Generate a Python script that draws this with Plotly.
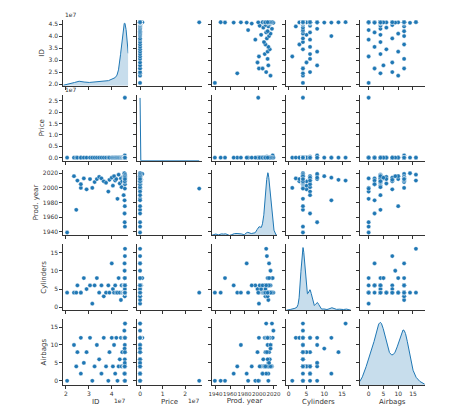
import numpy as np
import plotly.graph_objects as go

ID = [20500000,23500000,24500000,25000000,26500000,26500000,27800000,29000000,30500000,31500000,
      32500000,33500000,34500000,35500000,36500000,37500000,38500000,39000000,40000000,40500000,
      41000000,41500000,42000000,42500000,43000000,43500000,44000000,44300000,44600000,45000000,
      45200000,45400000,45500000,45550000,45600000,45620000,45650000,45670000,45690000,45700000,
      45710000,45720000,45730000,45740000,45750000,45760000,45770000,45780000,45790000,45800000,
      45810000,45650000,45600000,45700000,45750000,45500000,45680000,45720000,45760000,45780000,
      45700000,45740000,45620000,45660000,45800000,45690000,45770000,45710000,45730000,45790000,
      45600000,45660000,45740000,45680000,45760000,45720000,45780000,45700000,45650000,45750000]
Price = [3000,5000,8000,9000,7000,6000,11000,4000,12000,15000,9000,14000,10000,20000,13000,17000,8000,22000,16000,10000,
         30000,12000,18000,9000,25000,14000,20000,11000,15000,19000,7000,26000,13000,30000,500000,12000,17000,9000,22000,14000,
         1000000,11000,26300000,16000,19000,8000,21000,13000,15000,18000,10000,12000,9000,14000,16000,11000,20000,13000,15000,17000,
         12000,19000,8000,14000,21000,10000,16000,18000,12000,15000,9000,13000,17000,11000,14000,20000,16000,12000,15000,18000]
Prod_year = [1939,2016,1970,2010,2000,2005,2013,1998,2012,2000,2008,2012,2015,2013,2009,2007,1995,2011,2014,2003,
             2016,2010,2012,1985,2018,2006,2013,2001,2009,2015,1990,2017,2012,2014,2011,2010,2013,2008,2016,2012,
             2019,2007,1999,2015,2014,2005,2012,2011,2010,2017,2013,1953,1965,1975,1947,2020,2012,2009,2014,2013,
             2011,2012,2016,2010,2015,2012,2014,2013,2008,2018,1983,2012,2011,2013,2010,2016,2012,2014,2009,2012]
Cylinders = [4,4,4,6,4,4,8,5,6,1,6,8,4,6,3,4,6,4,12,5,4,6,4,4,8,4,2,6,4,4,6,4,4,4,6,4,4,4,6,4,
             8,4,4,4,4,6,4,4,16,4,4,8,6,4,4,4,3,5,4,6,4,4,10,4,4,4,6,4,4,4,12,4,14,4,6,4,4,8,4,4]
Airbags = [0,10,4,8,12,2,5,8,12,0,4,10,6,2,12,4,0,8,12,4,10,2,12,0,4,6,12,4,8,12,4,4,12,4,12,4,0,12,4,8,
           12,4,0,12,4,2,12,4,16,4,12,0,2,10,0,14,12,4,8,12,4,12,9,4,12,6,4,12,4,16,2,12,8,4,12,4,12,5,4,12]

names = ["ID", "Price", "Prod. year", "Cylinders", "Airbags"]
cols = [ID, Price, Prod_year, Cylinders, Airbags]
ranges = [[1.88e7, 4.72e7], [-0.13e7, 2.76e7], [1935, 2025], [-0.8, 17.5], [-3, 19]]
yranges = [[1.93e7, 4.67e7], [-0.13e7, 2.76e7], [1935, 2025], [-0.8, 17.2], [-1.2, 17.2]]
ticks = [([2e7, 3e7, 4e7], ["2", "3", "4"], [2e7, 2.5e7, 3e7, 3.5e7, 4e7, 4.5e7], ["2.0", "2.5", "3.0", "3.5", "4.0", "4.5"]),
         ([0, 1e7, 2e7], ["0", "1", "2"], [0, 0.5e7, 1e7, 1.5e7, 2e7, 2.5e7], ["0.0", "0.5", "1.0", "1.5", "2.0", "2.5"]),
         ([1940, 1960, 1980, 2000, 2020], None, [1940, 1960, 1980, 2000, 2020], None),
         ([0, 5, 10, 15], None, [0, 5, 10, 15], None),
         ([0, 5, 10, 15], None, [0, 5, 10, 15], None)]

W, H = 474, 410
lefts = [53, 128, 204, 279, 354]
tops = [12, 87, 162, 237, 312]
cw, ch = 66, 66
blue = "#1f77b4"
font = dict(family="DejaVu Sans", size=7, color="#333")
tfont = dict(family="DejaVu Sans", size=6, color="#333")
sfont = dict(family="DejaVu Sans", size=5.5, color="#333")

def kde(v, grid):
    v = np.asarray(v, float)
    iqr = np.subtract(*np.percentile(v, [75, 25]))
    bw = 0.9 * min(v.std(ddof=1), iqr / 1.34) * len(v) ** (-1 / 5)
    d = np.exp(-0.5 * ((grid[:, None] - v[None, :]) / bw) ** 2).sum(1)
    return d / (len(v) * bw * np.sqrt(2 * np.pi)), bw

def ax(n, letter):
    return f"{letter}axis" if n == 1 else f"{letter}axis{n}"

def ref(n, letter):
    return letter if n == 1 else f"{letter}{n}"

fig = go.Figure()
layout = {}
for r in range(5):
    for c in range(5):
        n = r * 5 + c + 1
        xt, xl, _, _ = ticks[c]
        _, _, yt, yl = ticks[r]
        ydom = [1 - (tops[r] + ch) / H, 1 - tops[r] / H]
        yr = yranges[r]
        if r == c:
            lo, hi = ranges[c]
            grid = np.linspace(lo, hi, 1500)
            dens, bw = kde(cols[c], grid)
            vmin, vmax = min(cols[c]) - 3 * bw, max(cols[c]) + 3 * bw
            m = (grid >= vmin) & (grid <= vmax)
            dtop = dens.max() * 1.05
            # map this row's variable ticks onto the density axis (only shown for the first cell)
            yt = [(t - yr[0]) / (yr[1] - yr[0]) * dtop for t in yt]
            yr = [0, dtop]
            fig.add_trace(go.Scatter(x=grid[m], y=dens[m], mode="lines", fill="tozeroy",
                                     line=dict(color=blue, width=1), fillcolor="rgba(31,119,180,0.25)",
                                     xaxis=ref(n, "x"), yaxis=ref(n, "y"), showlegend=False, hoverinfo="skip"))
        else:
            fig.add_trace(go.Scatter(x=cols[c], y=cols[r], mode="markers",
                                     marker=dict(color=blue, size=4.3, line=dict(color="white", width=0.4)),
                                     xaxis=ref(n, "x"), yaxis=ref(n, "y"), showlegend=False))
        layout[ax(n, "x")] = dict(domain=[lefts[c] / W, (lefts[c] + cw) / W], anchor=ref(n, "y"), range=ranges[c],
                          showline=True, linecolor="#333", linewidth=0.8, showgrid=False, zeroline=False,
                          ticks="outside", ticklen=3, tickcolor="#333", tickvals=xt, ticktext=xl,
                          showticklabels=(r == 4), tickfont=sfont if c == 2 else tfont, tickangle=0,
                          title=dict(text=names[c], font=font, standoff=2) if r == 4 else None)
        layout[ax(n, "y")] = dict(domain=ydom, anchor=ref(n, "x"), range=yr,
                          showline=True, linecolor="#333", linewidth=0.8, showgrid=False, zeroline=False,
                          ticks="outside", ticklen=3, tickcolor="#333", tickvals=yt,
                          ticktext=yl if yl else [str(t) for t in ticks[r][2]],
                          showticklabels=(c == 0), tickfont=tfont,
                          title=dict(text=names[r], font=font, standoff=3) if c == 0 else None)

ann = []
for c in (0, 1):
    ann.append(dict(text="1e7", xref="paper", yref="paper", x=(lefts[c] + cw) / W, y=1 - (tops[4] + ch + 10) / H,
                    xanchor="right", yanchor="top", showarrow=False, font=tfont))
for r in (0, 1):
    ann.append(dict(text="1e7", xref="paper", yref="paper", x=lefts[0] / W, y=1 - tops[r] / H,
                    xanchor="left", yanchor="bottom", showarrow=False, font=tfont))

fig.update_layout(width=W, height=H, margin=dict(l=0, r=0, t=0, b=0), paper_bgcolor="white",
                  plot_bgcolor="white", annotations=ann, showlegend=False, **layout)
fig.write_html("out.html")
